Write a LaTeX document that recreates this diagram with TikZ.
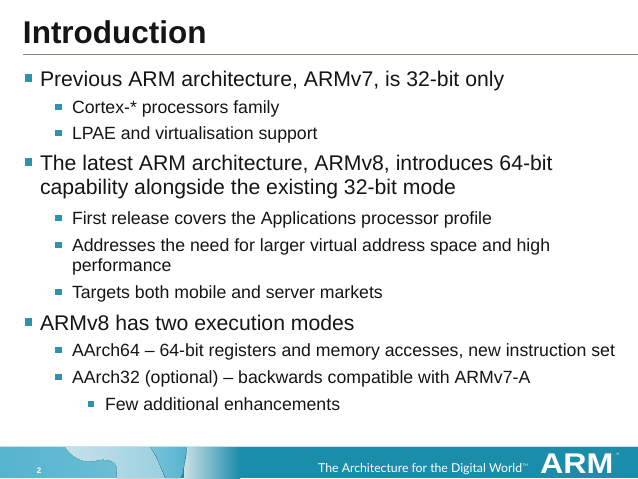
\documentclass[tikz,border=0pt]{standalone}
\usepackage{fontspec}
\setmainfont{Liberation Sans}
\newfontfamily\tagfont{Lato}
\definecolor{teal}{HTML}{1A8DAB}
\definecolor{bul}{HTML}{2A93AD}
\definecolor{ink}{HTML}{151515}
\definecolor{rulec}{HTML}{8C857B}
\definecolor{globeL}{HTML}{55B4CF}
\definecolor{globeM}{HTML}{79C3D9}
\definecolor{land}{HTML}{C6E2EA}
\definecolor{landB}{HTML}{9AD0E0}
\definecolor{haze}{HTML}{C9DFE5}
\tikzset{
 x=1pt,y=-1pt,
 txt/.style={anchor=base west,inner sep=0pt,outer sep=0pt,text=ink},
 lone/.style={txt,font=\fontsize{21.2}{24}\selectfont},
 ltwo/.style={txt,font=\fontsize{17.7}{20}\selectfont},
 bone/.style={fill=bul,draw=none,minimum size=7.5pt,inner sep=0pt},
 btwo/.style={fill=bul,draw=none,minimum size=6.5pt,inner sep=0pt},
}
\begin{document}
\begin{tikzpicture}
\useasboundingbox (0,0) rectangle (638,479);
\fill[white] (0,0) rectangle (638,479);
\node[txt,font=\fontsize{31.5}{34}\selectfont\bfseries] (title) at (23,43.5) {Introduction};
\draw[rulec,line width=0.7pt] (23,54) -- (638,54);
% level 1
\node[bone] (b1) at (28.5,78) {};
\node[lone] (t1) at (40,86) {Previous ARM architecture, ARMv7, is 32-bit only};
\node[btwo] (b2) at (58.5,107) {};
\node[ltwo] (t2) at (72,113) {Cortex-* processors family};
\node[btwo] (b3) at (58.5,133) {};
\node[ltwo] (t3) at (72,139) {LPAE and virtualisation support};
\node[bone] (b4) at (28.5,162) {};
\node[lone] (t4) at (40,170) {The latest ARM architecture, ARMv8, introduces 64-bit};
\node[lone] (t4b) at (40,194) {capability alongside the existing 32-bit mode};
\node[btwo] (b5) at (58.5,218) {};
\node[ltwo] (t5) at (72,224) {First release covers the Applications processor profile};
\node[btwo] (b6) at (58.5,245) {};
\node[ltwo] (t6) at (72,251) {Addresses the need for larger virtual address space and high};
\node[ltwo] (t6b) at (72,271) {performance};
\node[btwo] (b7) at (58.5,292) {};
\node[ltwo] (t7) at (72,298) {Targets both mobile and server markets};
\node[bone] (b8) at (28.5,322) {};
\node[lone] (t8) at (40,330) {ARMv8 has two execution modes};
\node[btwo] (b9) at (58.5,350) {};
\node[ltwo] (t9) at (72,356) {AArch64 – 64-bit registers and memory accesses, new instruction set};
\node[btwo] (b10) at (58.5,377) {};
\node[ltwo] (t10) at (72,383) {AArch32 (optional) – backwards compatible with ARMv7-A};
\node[btwo] (b11) at (91,404) {};
\node[ltwo] (t11) at (105,410) {Few additional enhancements};
% footer
\fill[teal] (0,447) rectangle (638,478);
\fill[left color=haze,right color=teal] (184,447) rectangle (240,478);
\begin{scope}
\clip (0,447) -- (187,447) .. controls (186,458) and (184,469) .. (181,478) -- (0,478) -- cycle;
\fill[left color=globeL,right color=globeM] (0,447) rectangle (190,478);
\fill[left color=land,right color=landB] (65,447) .. controls (72,458) and (85,464) .. (95,461)
  .. controls (105,458) and (115,460) .. (117,468) .. controls (117,472) and (116,475) .. (117,478)
  -- (165,478) .. controls (160,465) and (156,455) .. (150,447) -- cycle;
\fill[left color=globeM,right color=globeL] (150,447) .. controls (158,456) and (160,468) .. (166,478) -- (182,478) -- (187,447) -- cycle;
\end{scope}
\fill[white!75!teal] (0,446) rectangle (638,447);
\node[anchor=base,inner sep=0pt,text=white,font=\fontsize{8}{9}\selectfont\bfseries] (pg) at (39,473) {2};
\node[anchor=base west,inner sep=0pt,text=white,font=\tagfont\fontsize{12.25}{15}\selectfont] (tag) at (318,472) {The Architecture for the Digital World};
\node[anchor=base west,inner sep=0pt,text=white,font=\tagfont\fontsize{3.5}{4}\selectfont,yshift=6pt] (tm) at (tag.base east) {TM};
\node[anchor=base west,inner sep=0pt,text=white,font=\fontsize{28.5}{30}\selectfont\bfseries,xscale=1.13] (logo) at (540,473) {ARM};
\node[anchor=center,inner sep=0pt,text=white,font=\fontsize{3.5}{4}\selectfont] (reg) at (618,454) {®};
\end{tikzpicture}
\end{document}
